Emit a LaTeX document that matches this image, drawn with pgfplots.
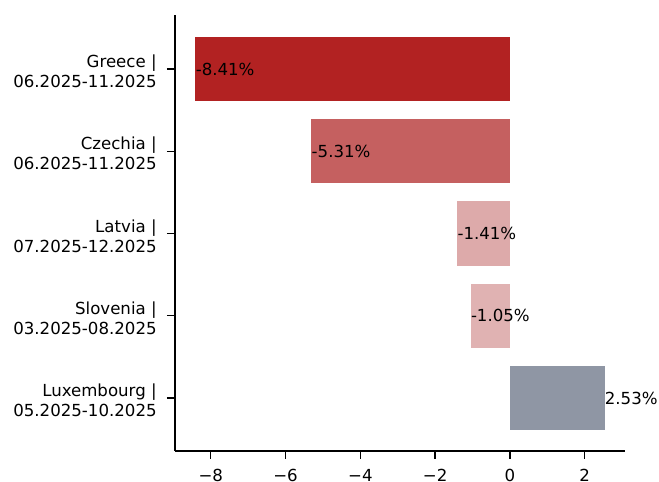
\documentclass[border=0pt]{standalone}
\usepackage{pgfplots}
\pgfplotsset{compat=1.18}
\usepackage{fontspec}
\setmainfont{DejaVu Sans}
\definecolor{cGR}{RGB}{178,34,34}
\definecolor{cCZ}{RGB}{197,96,96}
\definecolor{cLV}{RGB}{221,170,170}
\definecolor{cSI}{RGB}{224,178,178}
\definecolor{cLU}{RGB}{143,150,164}
\begin{document}
\begin{tikzpicture}
\begin{axis}[name=ax,
  scale only axis, width=270bp, height=261.6bp,
  xmin=-8.957, xmax=3.077, ymin=-0.644, ymax=4.656,
  axis x line*=bottom, axis y line*=left,
  axis line style={-, line width=0.8pt},
  tick align=outside, major tick length=4.8bp,
  tick style={black, line width=0.8pt},
  xtick={-8,-6,-4,-2,0,2},
  xticklabels={−8,−6,−4,−2,0,2},
  ytick={0,1,2,3,4},
  yticklabels={{Luxembourg |\\05.2025-10.2025},{Slovenia |\\03.2025-08.2025},{Latvia |\\07.2025-12.2025},{Czechia |\\06.2025-11.2025},{Greece |\\06.2025-11.2025}},
  yticklabel style={align=right, inner sep=0pt, xshift=-6bp, yshift=-1.5bp},
  xticklabel style={inner sep=0pt, yshift=-6bp},
  clip=false,
]
\pgfplotsset{every axis plot/.append style={xbar, bar width=0.78, bar shift=0pt, draw=none,
  point meta=explicit symbolic, nodes near coords={\pgfplotspointmeta},
  every node near coord/.append style={anchor=west, inner sep=0pt, xshift=0pt, black}}}
\addplot[fill=cGR, xbar, bar shift=0pt, draw=none] coordinates {(-8.41,4) [-8.41\%]};
\addplot[fill=cCZ, xbar, bar shift=0pt, draw=none] coordinates {(-5.31,3) [-5.31\%]};
\addplot[fill=cLV, xbar, bar shift=0pt, draw=none] coordinates {(-1.41,2) [-1.41\%]};
\addplot[fill=cSI, xbar, bar shift=0pt, draw=none] coordinates {(-1.05,1) [-1.05\%]};
\addplot[fill=cLU, xbar, bar shift=0pt, draw=none] coordinates {(2.53,0) [2.53\%]};
\end{axis}
\path[use as bounding box] ([xshift=-105bp,yshift=-16.8bp]ax.south west) rectangle ([xshift=20.4bp,yshift=9bp]ax.north east);
\end{tikzpicture}
\end{document}
